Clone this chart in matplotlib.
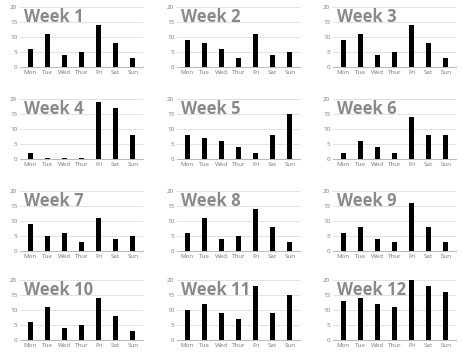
import numpy as np
import matplotlib
matplotlib.use("Agg")
import matplotlib.pyplot as plt

days = ["Mon", "Tue", "Wed", "Thur", "Fri", "Sat", "Sun"]

week1 = [6, 11, 4, 5, 14, 8, 3]
week2 = [9, 8, 6, 3, 11, 4, 5]
week3 = [9, 11, 4, 5, 14, 8, 3]
week4 = [2, 0.25, 0.25, 0.25, 19, 17, 8]
week5 = [8, 7, 6, 4, 2, 8, 15]
week6 = [2, 6, 4, 2, 14, 8, 8]
week7 = [9, 5, 6, 3, 11, 4, 5]
week8 = [6, 11, 4, 5, 14, 8, 3]
week9 = [6, 8, 4, 3, 16, 8, 3]
week10 = [6, 11, 4, 5, 14, 8, 3]
week11 = [10, 12, 9, 7, 18, 9, 15]
week12 = [13, 14, 12, 11, 20, 18, 16]

weeks = [week1, week2, week3, week4, week5, week6,
         week7, week8, week9, week10, week11, week12]
titles = ["Week %d" % (i + 1) for i in range(12)]

plt.rcParams["font.family"] = ["Open Sans", "DejaVu Sans"]

fig = plt.figure(figsize=(4.74, 3.56), dpi=100)

col_left = [20, 177, 333]
row_bottom = [67, 159, 251, 340]
W, H = 474, 356
ax_w, ax_h = 123, 60

x = np.arange(len(days))
for i, vals in enumerate(weeks):
    r, c = divmod(i, 3)
    ax = fig.add_axes([col_left[c] / W, 1 - row_bottom[r] / H, ax_w / W, ax_h / H])
    ax.bar(x, vals, width=0.3, color="black", zorder=3)
    ax.set_ylim(0, 20)
    ax.set_xlim(-0.6, 6.6)
    ax.set_yticks([0, 5, 10, 15, 20])
    ax.set_xticks(x)
    ax.set_xticklabels(days)
    ax.tick_params(labelsize=4.5, colors="#777777", length=0, pad=2)
    ax.yaxis.grid(True, color="#dddddd", linewidth=0.6, zorder=0)
    for s in ["top", "right", "left"]:
        ax.spines[s].set_visible(False)
    ax.spines["bottom"].set_color("#bbbbbb")
    ax.spines["bottom"].set_linewidth(0.8)
    ax.text(0.03, 0.83, titles[i], transform=ax.transAxes, fontsize=12,
            fontweight="bold", color="#8a8a8a", va="center", ha="left", zorder=4)

fig.savefig("out.png", dpi=100, facecolor="white")
